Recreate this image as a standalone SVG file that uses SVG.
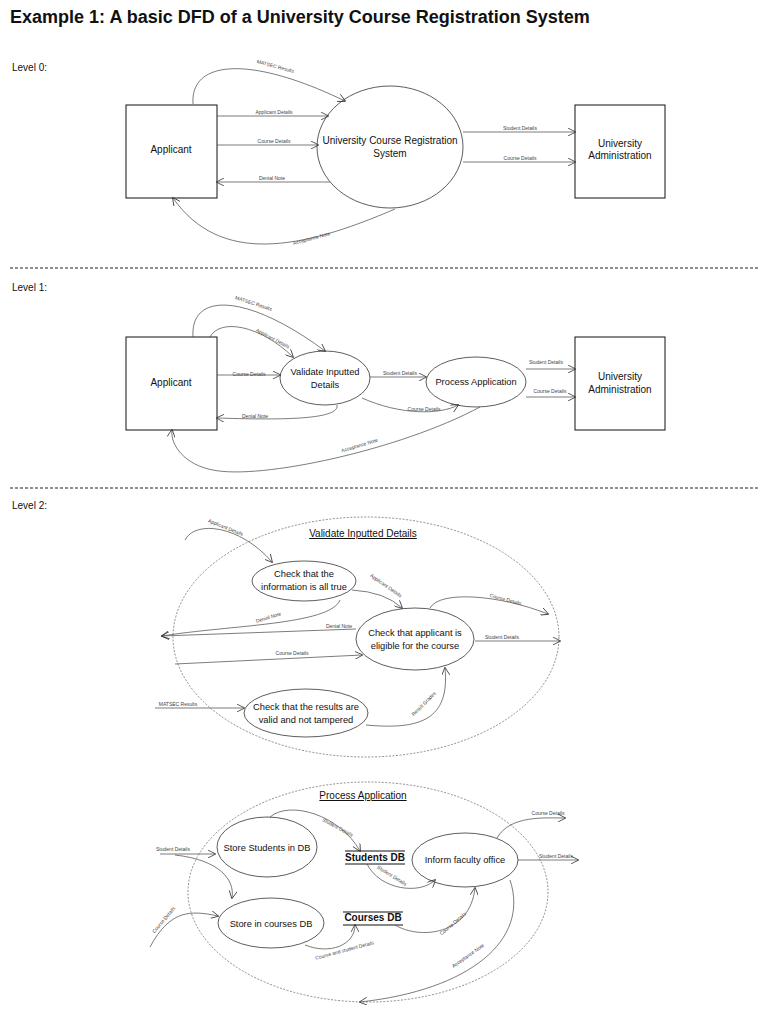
<svg xmlns="http://www.w3.org/2000/svg" width="768" height="1024" viewBox="0 0 768 1024">
<defs>
<marker id="a" viewBox="0 0 10 10" refX="9" refY="5" markerWidth="8" markerHeight="8" orient="auto-start-reverse" markerUnits="userSpaceOnUse"><path d="M0,0 L10,5 L0,10" fill="none" stroke="#333" stroke-width="1"/></marker>
</defs>
<style>
text{font-family:"Liberation Sans",Arial,sans-serif;fill:#111}
.t{font-size:18px;font-weight:bold}
.lv{font-size:10px}
.n{font-size:10px;text-anchor:middle}
.m{font-size:9.3px;text-anchor:middle}
.s{font-size:5px;text-anchor:middle;fill:#444}
.b{fill:#fff;stroke:#111;stroke-width:1}
.e{fill:#fff;stroke:#333;stroke-width:0.8}
.d{fill:none;stroke:#444;stroke-width:0.6;stroke-dasharray:2,1.5}
.c path{fill:none;stroke:#444;stroke-width:0.7;marker-end:url(#a)}
.sep{stroke:#222;stroke-width:1;stroke-dasharray:3,2}
</style>
<rect width="768" height="1024" fill="#fff"/>
<text class="t" x="10" y="23">Example 1: A basic DFD of a University Course Registration System</text>
<text class="lv" x="12" y="71">Level 0:</text>
<line class="sep" x1="10" y1="268" x2="758" y2="268"/>
<text class="lv" x="12" y="291">Level 1:</text>
<line class="sep" x1="10" y1="488" x2="758" y2="488"/>
<text class="lv" x="12" y="509">Level 2:</text>

<g id="l0-applicant"><rect class="b" x="126" y="105" width="91" height="93"/><text class="n" x="171" y="153">Applicant</text></g>
<g id="l0-system"><ellipse class="e" cx="390" cy="147" rx="73" ry="61"/><text class="n" x="390" y="144">University Course Registration</text><text class="n" x="390" y="157">System</text></g>
<g id="l0-admin"><rect class="b" x="575" y="105" width="90" height="93"/><text class="n" x="620" y="147">University</text><text class="n" x="620" y="159">Administration</text></g>

<g id="l1-applicant"><rect class="b" x="126" y="337" width="91" height="93"/><text class="n" x="171" y="386">Applicant</text></g>
<g id="l1-validate"><ellipse class="e" cx="325" cy="378" rx="45" ry="27"/><text class="m" x="325" y="375">Validate Inputted</text><text class="m" x="325" y="388">Details</text></g>
<g id="l1-process"><ellipse class="e" cx="476" cy="382" rx="50" ry="25"/><text class="m" x="476" y="385">Process Application</text></g>
<g id="l1-admin"><rect class="b" x="575" y="337" width="90" height="93"/><text class="n" x="620" y="380">University</text><text class="n" x="620" y="393">Administration</text></g>

<g id="l2-validate-boundary"><ellipse class="d" cx="366" cy="637" rx="193" ry="120"/><text class="n" x="363" y="537" text-decoration="underline">Validate Inputted Details</text></g>
<g id="l2-check-info"><ellipse class="e" cx="304" cy="581" rx="52" ry="20"/><text class="m" x="304" y="577">Check that the</text><text class="m" x="304" y="590">information is  all true</text></g>
<g id="l2-eligible"><ellipse class="e" cx="415" cy="639" rx="59" ry="31"/><text class="m" x="415" y="636">Check that applicant is</text><text class="m" x="415" y="649">eligible for the course</text></g>
<g id="l2-results"><ellipse class="e" cx="306" cy="713" rx="62" ry="24"/><text class="m" x="306" y="710">Check that the results are</text><text class="m" x="306" y="723">valid and not tampered</text></g>

<g id="l2-process-boundary"><ellipse class="d" cx="368" cy="892" rx="180" ry="110"/><text class="n" x="363" y="799" text-decoration="underline">Process Application</text></g>
<g id="l2-store-students"><ellipse class="e" cx="267" cy="847" rx="50" ry="30"/><text class="m" x="267" y="851">Store Students in DB</text></g>
<g id="l2-store-courses"><ellipse class="e" cx="271" cy="923" rx="53" ry="25"/><text class="m" x="271" y="927">Store in courses DB</text></g>
<g id="l2-inform"><ellipse class="e" cx="465" cy="860" rx="53" ry="27"/><text class="m" x="465" y="863">Inform faculty office</text></g>
<g id="l2-students-db"><line x1="345" y1="851" x2="405" y2="851" stroke="#111"/><line x1="345" y1="864" x2="405" y2="864" stroke="#111"/><text class="n" x="375" y="861" font-weight="bold">Students DB</text></g>
<g id="l2-courses-db"><line x1="343" y1="912" x2="403" y2="912" stroke="#111"/><line x1="343" y1="925" x2="403" y2="925" stroke="#111"/><text class="n" x="373" y="921" font-weight="bold">Courses DB</text></g>

<g id="connectors" class="c">
<path d="M193,104 C190,60 250,55 345,101"/>
<path d="M217,116 L328,116"/>
<path d="M217,145 L318,145"/>
<path d="M330,182 L217,182"/>
<path d="M463,132 L575,132"/>
<path d="M463,162 L575,162"/>
<path d="M395,209 C300,250 220,265 173,198"/>

<path d="M193,337 C190,290 250,295 325,351"/>
<path d="M210,337 C220,318 260,325 293,357"/>
<path d="M217,375 L280,375"/>
<path d="M337,405 C340,420 280,420 217,418"/>
<path d="M370,377 L426,377"/>
<path d="M362,398 C400,415 440,415 458,405"/>
<path d="M526,369 L575,369"/>
<path d="M526,397 L575,397"/>
<path d="M480,407 C400,450 260,480 213,470 C185,465 170,445 172,430"/>

<path d="M185,540 C195,520 240,525 272,562"/>
<path d="M352,590 Q385,592 402,608"/>
<path d="M340,600 C330,625 230,625 162,636"/>
<path d="M356,629 L162,636"/>
<path d="M175,664 L362,655"/>
<path d="M475,641 L560,641"/>
<path d="M430,608 C440,590 500,595 548,614"/>
<path d="M155,708 L244,708"/>
<path d="M366,725 C420,730 450,720 445,668"/>

<path d="M160,854 L215,854"/>
<path d="M175,855 C220,860 235,880 232,898"/>
<path d="M150,947 C170,910 190,910 218,916"/>
<path d="M270,817 C290,800 340,815 360,851"/>
<path d="M367,864 C380,890 420,895 435,880"/>
<path d="M305,945 C330,955 355,945 355,925"/>
<path d="M395,925 C420,940 470,935 475,888"/>
<path d="M497,838 C510,815 545,818 565,818"/>
<path d="M518,860 L578,860"/>
<path d="M510,880 C530,940 470,990 360,1002"/>
</g>

<g id="labels">
<text class="s" x="275" y="68" transform="rotate(15 275 68)">MATSEC Results</text>
<text class="s" x="274" y="114">Applicant Details</text>
<text class="s" x="274" y="143">Course Details</text>
<text class="s" x="272" y="180">Denial Note</text>
<text class="s" x="520" y="130">Student Details</text>
<text class="s" x="520" y="160">Course Details</text>
<text class="s" x="312" y="240" transform="rotate(-15 312 240)">Acceptance Note</text>
<text class="s" x="253" y="305" transform="rotate(18 253 305)">MATSEC Results</text>
<text class="s" x="272" y="340" transform="rotate(28 272 340)">Applicant Details</text>
<text class="s" x="249" y="376">Course Details</text>
<text class="s" x="255" y="418">Denial Note</text>
<text class="s" x="400" y="375">Student Details</text>
<text class="s" x="424" y="411">Course Details</text>
<text class="s" x="546" y="364">Student Details</text>
<text class="s" x="550" y="393">Course Details</text>
<text class="s" x="360" y="447" transform="rotate(-17 360 447)">Acceptance Note</text>
<text class="s" x="225" y="529" transform="rotate(22 225 529)">Applicant Details</text>
<text class="s" x="385" y="587" transform="rotate(35 385 587)">Applicant Details</text>
<text class="s" x="505" y="601" transform="rotate(15 505 601)">Course Details</text>
<text class="s" x="269" y="619" transform="rotate(-17 269 619)">Denial Note</text>
<text class="s" x="339" y="628">Denial Note</text>
<text class="s" x="292" y="655">Course Details</text>
<text class="s" x="502" y="639">Student Details</text>
<text class="s" x="178" y="706">MATSEC Results</text>
<text class="s" x="425" y="705" transform="rotate(-45 425 705)">Result Grades</text>
<text class="s" x="173" y="851">Student Details</text>
<text class="s" x="337" y="829" transform="rotate(28 337 829)">Student Details</text>
<text class="s" x="391" y="877" transform="rotate(32 391 877)">Student Details</text>
<text class="s" x="165" y="921" transform="rotate(-50 165 921)">Course Details</text>
<text class="s" x="345" y="952" transform="rotate(-15 345 952)">Course and student Details</text>
<text class="s" x="454" y="925" transform="rotate(-40 454 925)">Course Details</text>
<text class="s" x="548" y="815">Course Details</text>
<text class="s" x="556" y="858">Student Details</text>
<text class="s" x="469" y="957" transform="rotate(-35 469 957)">Acceptance Note</text>
</g>
</svg>
